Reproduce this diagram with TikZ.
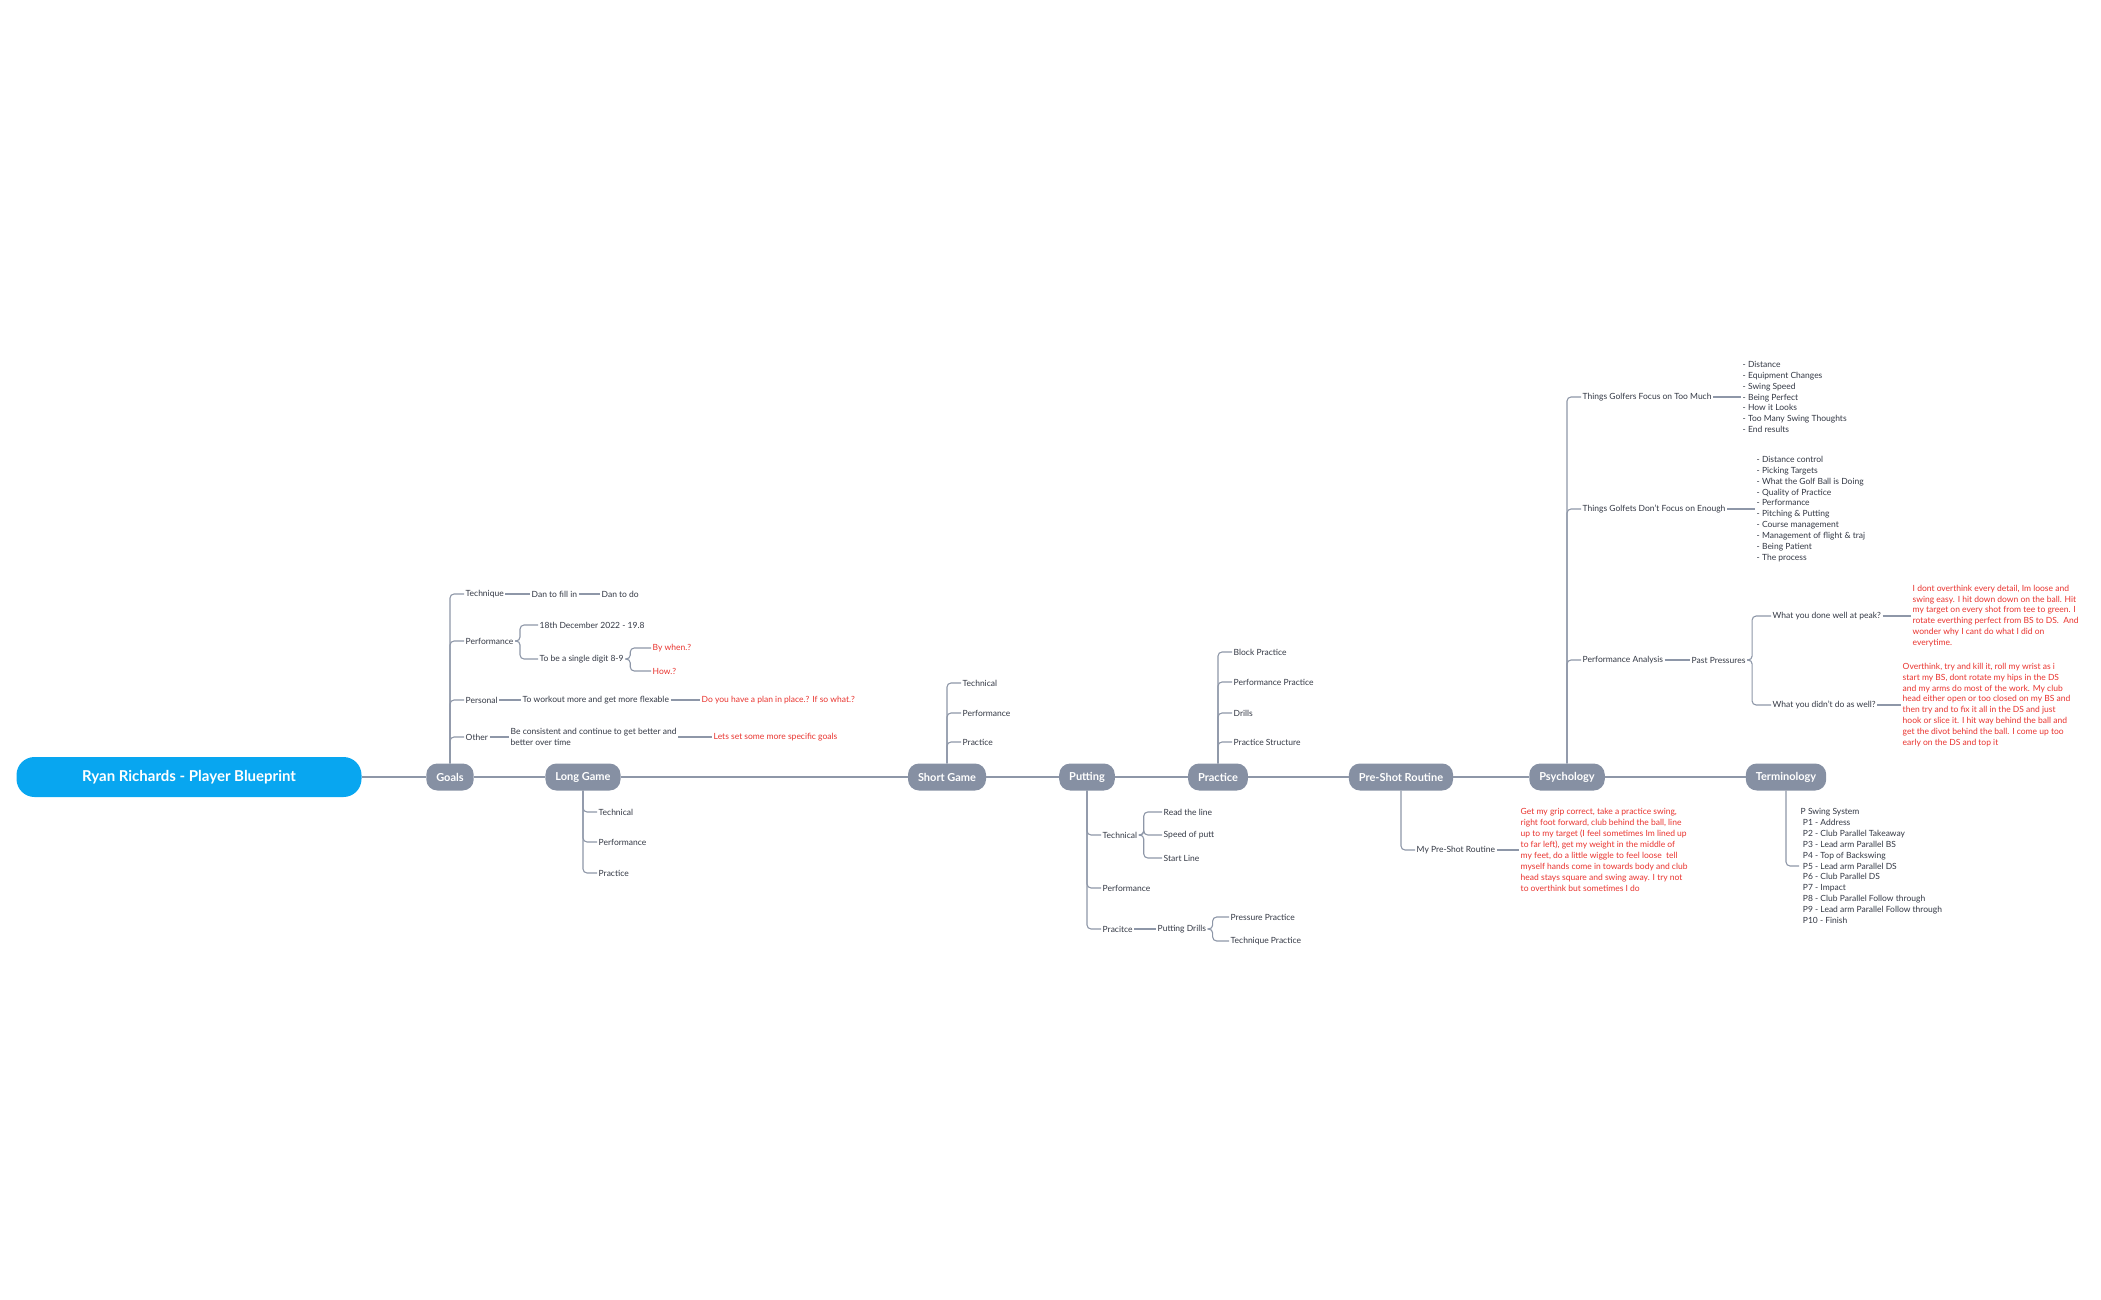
\documentclass[tikz,border=0pt]{standalone}
\usepackage{fontspec}
\setmainfont{Lato}
\definecolor{lnc}{HTML}{8E97A8}
\definecolor{mainc}{HTML}{8690A3}
\definecolor{rootc}{HTML}{08A6F0}
\definecolor{redc}{HTML}{E8332E}
\definecolor{txtc}{HTML}{333844}
\begin{document}
\begin{tikzpicture}[x=1pt,y=-1pt,
  main/.style={fill=mainc,text=white,rounded corners=11pt,minimum height=27pt,font=\fontsize{11}{13}\selectfont\bfseries,inner xsep=10pt},
  rootn/.style={fill=rootc,text=white,rounded corners=18pt,minimum height=40pt,minimum width=345pt,font=\fontsize{15}{18}\selectfont\bfseries},
  t/.style={anchor=west,inner sep=1.5pt,text=txtc,font=\fontsize{8.5}{10.9}\selectfont,align=left},
  r/.style={t,text=redc},
  conn/.style={draw=lnc,line width=1.1pt,rounded corners=4pt},
  mline/.style={draw=lnc,line width=1.6pt}]
\useasboundingbox (0,0) rectangle (2101,1300);
% main nodes
\node[rootn] (root) at (189,777) {Ryan Richards - Player Blueprint};
\node[main] (goals) at (450,777) {Goals};
\node[main] (long) at (583,777) {Long Game};
\node[main] (short) at (947,777) {Short Game};
\node[main] (putt) at (1087,777) {Putting};
\node[main] (prac) at (1218,777) {Practice};
\node[main] (pre) at (1401,777) {Pre-Shot Routine};
\node[main] (psy) at (1567,777) {Psychology};
\node[main] (term) at (1786,777) {Terminology};
\foreach \a/\b in {root/goals,goals/long,long/short,short/putt,putt/prac,prac/pre,pre/psy,psy/term}
  \draw[mline] (\a.east) -- (\b.west);
% Goals
\node[t] (g1) at (464,594) {Technique};
\node[t] (g1a) at (530,594) {Dan to fill in};
\node[t] (g1b) at (600,594) {Dan to do};
\node[t] (g2) at (464,641) {Performance};
\node[t] (g2a) at (538,625) {18th December 2022 - 19.8};
\node[t] (g2b) at (538,659) {To be a single digit 8-9};
\node[r] (g2b1) at (651,648) {By when.?};
\node[r] (g2b2) at (651,671) {How.?};
\node[t] (g3) at (464,700) {Personal};
\node[t] (g3a) at (521,700) {To workout more and get more flexable};
\node[r] (g3b) at (700,700) {Do you have a plan in place.? If so what.?};
\node[t] (g4) at (464,737) {Other};
\node[t] (g4a) at (509,737) {Be consistent and continue to get better and\\better over time};
\node[r] (g4b) at (712,737) {Lets set some more specific goals};
\foreach \c in {g1,g2,g3,g4} \draw[conn] (goals.north) |- (\c.west);
\draw[conn] (g1.east) -- (g1a.west); \draw[conn] (g1a.east) -- (g1b.west);
\draw[conn] (g2.east) -- ++(5,0) |- (g2a.west);
\draw[conn] (g2.east) -- ++(5,0) |- (g2b.west);
\draw[conn] (g2b.east) -- ++(5,0) |- (g2b1.west);
\draw[conn] (g2b.east) -- ++(5,0) |- (g2b2.west);
\draw[conn] (g3.east) -- (g3a.west); \draw[conn] (g3a.east) -- (g3b.west);
\draw[conn] (g4.east) -- (g4a.west); \draw[conn] (g4a.east) -- (g4b.west);
% Long game
\node[t] (l1) at (597,812) {Technical};
\node[t] (l2) at (597,842) {Performance};
\node[t] (l3) at (597,873) {Practice};
\foreach \c in {l1,l2,l3} \draw[conn] (long.south) |- (\c.west);
% Short game
\node[t] (s1) at (961,683) {Technical};
\node[t] (s2) at (961,713) {Performance};
\node[t] (s3) at (961,742) {Practice};
\foreach \c in {s1,s2,s3} \draw[conn] (short.north) |- (\c.west);
% Putting
\node[t] (p1) at (1101,835) {Technical};
\node[t] (p1a) at (1162,812) {Read the line};
\node[t] (p1b) at (1162,835) {Speed of putt};
\node[t] (p1c) at (1162,858) {Start Line};
\node[t] (p2) at (1101,888) {Performance};
\node[t] (p3) at (1101,929) {Pracitce};
\node[t] (p3a) at (1156,929) {Putting Drills};
\node[t] (p3b) at (1229,917) {Pressure Practice};
\node[t] (p3c) at (1229,941) {Technique Practice};
\foreach \c in {p1,p2,p3} \draw[conn] (putt.south) |- (\c.west);
\foreach \c in {p1a,p1b,p1c} \draw[conn] (p1.east) -- ++(5,0) |- (\c.west);
\draw[conn] (p3.east) -- (p3a.west);
\foreach \c in {p3b,p3c} \draw[conn] (p3a.east) -- ++(5,0) |- (\c.west);
% Practice
\node[t] (q1) at (1232,652) {Block Practice};
\node[t] (q2) at (1232,682) {Performance Practice};
\node[t] (q3) at (1232,713) {Drills};
\node[t] (q4) at (1232,742) {Practice Structure};
\foreach \c in {q1,q2,q3,q4} \draw[conn] (prac.north) |- (\c.west);
% Pre-shot
\node[t] (ps1) at (1415,850) {My Pre-Shot Routine};
\node[r] (ps1a) at (1519,850) {Get my grip correct, take a practice swing,\\right foot forward, club behind the ball, line\\up to my target (I feel sometimes Im lined up\\to far left), get my weight in the middle of\\my feet, do a little wiggle to feel loose\ \ tell\\myself hands come in towards body and club\\head stays square and swing away. I try not\\to overthink but sometimes I do};
\draw[conn] (pre.south) |- (ps1.west);
\draw[conn] (ps1.east) -- (ps1a.west);
% Psychology
\node[t] (y1) at (1581,397) {Things Golfers Focus on Too Much};
\node[t] (y1a) at (1741,397) {- Distance\\- Equipment Changes\\- Swing Speed\\- Being Perfect\\- How it Looks\\- Too Many Swing Thoughts\\- End results};
\node[t] (y2) at (1581,509) {Things Golfets Don't Focus on Enough};
\node[t] (y2a) at (1755,509) {- Distance control\\- Picking Targets\\- What the Golf Ball is Doing\\- Quality of Practice\\- Performance\\- Pitching \& Putting\\- Course management\\- Management of flight \& traj\\- Being Patient\\- The process};
\node[t] (y3) at (1581,660) {Performance Analysis};
\node[t] (y3a) at (1690,660) {Past Pressures};
\node[t] (y3b) at (1771,616) {What you done well at peak?};
\node[t] (y3c) at (1771,705) {What you didn't do as well?};
\node[r] (y3b1) at (1911,616) {I dont overthink every detail, Im loose and\\swing easy. I hit down down on the ball. Hit\\my target on every shot from tee to green. I\\rotate everthing perfect from BS to DS.\ \ And\\wonder why I cant do what I did on\\everytime.};
\node[r] (y3c1) at (1901,705) {Overthink, try and kill it, roll my wrist as i\\start my BS, dont rotate my hips in the DS\\and my arms do most of the work. My club\\head either open or too closed on my BS and\\then try and to fix it all in the DS and just\\hook or slice it. I hit way behind the ball and\\get the divot behind the ball. I come up too\\early on the DS and top it};
\foreach \c in {y1,y2,y3} \draw[conn] (psy.north) |- (\c.west);
\draw[conn] (y1.east) -- (y1a.west);
\draw[conn] (y2.east) -- (y2a.west);
\draw[conn] (y3.east) -- (y3a.west);
\foreach \c in {y3b,y3c} \draw[conn] (y3a.east) -- ++(5,0) |- (\c.west);
\draw[conn] (y3b.east) -- (y3b1.west);
\draw[conn] (y3c.east) -- (y3c1.west);
% Terminology
\node[t] (tm1) at (1799,866) {P Swing System\\\ P1 - Address\\\ P2 - Club Parallel Takeaway\\\ P3 - Lead arm Parallel BS\\\ P4 - Top of Backswing\\\ P5 - Lead arm Parallel DS\\\ P6 - Club Parallel DS\\\ P7 - Impact\\\ P8 - Club Parallel Follow through\\\ P9 - Lead arm Parallel Follow through\\\ P10 - Finish};
\draw[conn] (term.south) |- (tm1.west);
\end{tikzpicture}
\end{document}
